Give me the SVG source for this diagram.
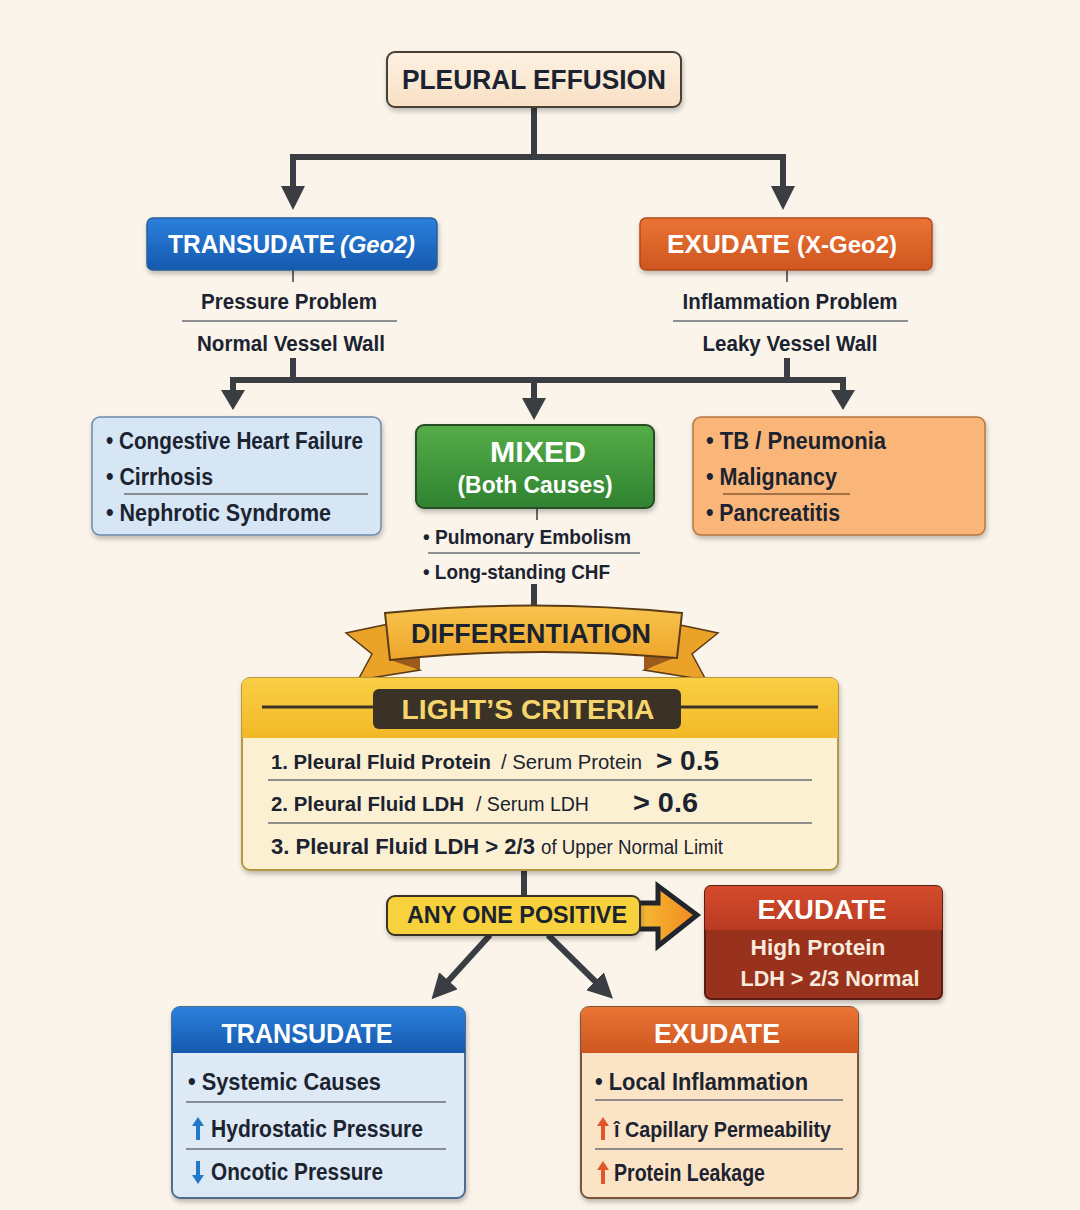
<svg xmlns="http://www.w3.org/2000/svg" width="1080" height="1210" viewBox="0 0 1080 1210">
<defs>
<style>
.t{font-family:"Liberation Sans","DejaVu Sans",sans-serif;font-weight:bold;fill:#1c2330}
.w{fill:#ffffff}
.c{text-anchor:middle}
.n{font-weight:normal}
.ln{stroke:#3a3d42;stroke-width:6;fill:none}
.thin{stroke:#3a3d42;stroke-width:1.5;fill:none}
.sep{stroke:#6b6f75;stroke-width:1.5}
.ah{fill:#3a3d42}
</style>
<linearGradient id="gBlue" x1="0" y1="0" x2="0" y2="1"><stop offset="0" stop-color="#2b80dc"/><stop offset="1" stop-color="#1559ae"/></linearGradient>
<linearGradient id="gOr" x1="0" y1="0" x2="0" y2="1"><stop offset="0" stop-color="#ea7434"/><stop offset="1" stop-color="#cf5620"/></linearGradient>
<linearGradient id="gGreen" x1="0" y1="0" x2="0" y2="1"><stop offset="0" stop-color="#55ad48"/><stop offset="1" stop-color="#2f8230"/></linearGradient>
<linearGradient id="gTitle" x1="0" y1="0" x2="0" y2="1"><stop offset="0" stop-color="#fdf1e2"/><stop offset="1" stop-color="#f8e0c4"/></linearGradient>
<linearGradient id="gRib" x1="0" y1="0" x2="0" y2="1"><stop offset="0" stop-color="#f9c44e"/><stop offset="1" stop-color="#eea52a"/></linearGradient>
<linearGradient id="gGold" x1="0" y1="0" x2="0" y2="1"><stop offset="0" stop-color="#f9cf45"/><stop offset="1" stop-color="#f2b826"/></linearGradient>
<linearGradient id="gRed" x1="0" y1="0" x2="0" y2="1"><stop offset="0" stop-color="#d54b2c"/><stop offset="1" stop-color="#b93a22"/></linearGradient>
<linearGradient id="gArrow" x1="0" y1="0" x2="1" y2="0"><stop offset="0" stop-color="#f8c33a"/><stop offset="1" stop-color="#f08a1e"/></linearGradient>
<filter id="sh" x="-10%" y="-10%" width="120%" height="130%"><feDropShadow dx="1" dy="3" stdDeviation="2.5" flood-color="#000" flood-opacity="0.25"/></filter>
<marker id="arr" viewBox="0 0 10 10" refX="5" refY="5" markerWidth="4.2" markerHeight="4.2" orient="auto"><path d="M0,0 L10,5 L0,10 Z" fill="#3a3d42"/></marker>
</defs>
<rect width="1080" height="1210" fill="#faf4ea"/>

<g id="connectors">
<path class="ln" d="M534,107 V157 M290,157 H786 M293,157 V190 M783,157 V190"/>
<polygon class="ah" points="281,186 305,186 293,210"/>
<polygon class="ah" points="771,186 795,186 783,210"/>
<path class="thin" d="M293,270 V282 M787,270 V282"/>
<path class="ln" d="M293,358 V380 M787,358 V380 M230,380 H846 M233,377 V392 M534,377 V402 M843,377 V392"/>
<polygon class="ah" points="221,390 245,390 233,410"/>
<polygon class="ah" points="522,398 546,398 534,420"/>
<polygon class="ah" points="831,390 855,390 843,410"/>
<path class="thin" d="M537,508 V520"/>
<path class="ln" d="M534,584 V606"/>
<path class="ln" d="M524,870 V898"/>
<path d="M490,935 L440,990" stroke="#3a3d42" stroke-width="6" marker-end="url(#arr)"/>
<path d="M548,935 L604,990" stroke="#3a3d42" stroke-width="6" marker-end="url(#arr)"/>
<polygon points="628,903 658,903 658,886 697,915 658,946 658,929 628,929" fill="url(#gArrow)" stroke="#22262c" stroke-width="5" stroke-linejoin="miter"/>
</g>

<g id="pleural-effusion">
<rect x="387" y="52" width="294" height="55" rx="8" fill="url(#gTitle)" stroke="#4a3f35" stroke-width="2" filter="url(#sh)"/>
<text class="t c" x="534" y="89" font-size="27" textLength="264" lengthAdjust="spacingAndGlyphs">PLEURAL EFFUSION</text>
</g>

<g id="transudate-head">
<rect x="147" y="218" width="290" height="52" rx="6" fill="url(#gBlue)" stroke="#2a5e9a" stroke-width="1.5" filter="url(#sh)"/>
<text class="t w" x="168" y="253" font-size="26" textLength="167" lengthAdjust="spacingAndGlyphs">TRANSUDATE</text>
<text class="t w" x="340" y="253" font-size="23" font-style="italic" textLength="75" lengthAdjust="spacingAndGlyphs">(Geo2)</text>
<text class="t c" x="289" y="309" font-size="22" textLength="176" lengthAdjust="spacingAndGlyphs">Pressure Problem</text>
<line class="sep" x1="182" y1="321" x2="397" y2="321"/>
<text class="t c" x="291" y="351" font-size="22" textLength="188" lengthAdjust="spacingAndGlyphs">Normal Vessel Wall</text>
</g>

<g id="exudate-head">
<rect x="640" y="218" width="292" height="52" rx="6" fill="url(#gOr)" stroke="#b04a1e" stroke-width="1.5" filter="url(#sh)"/>
<text class="t w" x="667" y="253" font-size="26" textLength="123" lengthAdjust="spacingAndGlyphs">EXUDATE</text>
<text class="t w" x="797" y="253" font-size="23" textLength="100" lengthAdjust="spacingAndGlyphs">(X-Geo2)</text>
<text class="t c" x="790" y="309" font-size="22" textLength="215" lengthAdjust="spacingAndGlyphs">Inflammation Problem</text>
<line class="sep" x1="673" y1="321" x2="908" y2="321"/>
<text class="t c" x="790" y="351" font-size="22" textLength="175" lengthAdjust="spacingAndGlyphs">Leaky Vessel Wall</text>
</g>

<g id="transudate-causes">
<rect x="92" y="417" width="289" height="118" rx="8" fill="#d6e6f5" stroke="#6d89a8" stroke-width="1.5" filter="url(#sh)"/>
<text class="t" x="106" y="449" font-size="23" textLength="257" lengthAdjust="spacingAndGlyphs">• Congestive Heart Failure</text>
<text class="t" x="106" y="485" font-size="23" textLength="107" lengthAdjust="spacingAndGlyphs">• Cirrhosis</text>
<line class="sep" x1="124" y1="494" x2="368" y2="494"/>
<text class="t" x="106" y="521" font-size="23" textLength="225" lengthAdjust="spacingAndGlyphs">• Nephrotic Syndrome</text>
</g>

<g id="mixed">
<rect x="416" y="425" width="238" height="83" rx="8" fill="url(#gGreen)" stroke="#264d26" stroke-width="2" filter="url(#sh)"/>
<text class="t w c" x="538" y="462" font-size="30" textLength="96" lengthAdjust="spacingAndGlyphs">MIXED</text>
<text class="t w c" x="535" y="493" font-size="23" textLength="155" lengthAdjust="spacingAndGlyphs">(Both Causes)</text>
<text class="t" x="423" y="544" font-size="21" textLength="208" lengthAdjust="spacingAndGlyphs">• Pulmonary Embolism</text>
<line class="sep" x1="428" y1="553" x2="640" y2="553"/>
<text class="t" x="423" y="579" font-size="21" textLength="187" lengthAdjust="spacingAndGlyphs">• Long-standing CHF</text>
</g>

<g id="exudate-causes">
<rect x="693" y="417" width="292" height="118" rx="8" fill="#f9b678" stroke="#b5773f" stroke-width="1.5" filter="url(#sh)"/>
<text class="t" x="706" y="449" font-size="23" textLength="180" lengthAdjust="spacingAndGlyphs">• TB / Pneumonia</text>
<text class="t" x="706" y="485" font-size="23" textLength="131" lengthAdjust="spacingAndGlyphs">• Malignancy</text>
<line x1="723" y1="494" x2="850" y2="494" stroke="#8a5a30" stroke-width="1.5"/>
<text class="t" x="706" y="521" font-size="23" textLength="134" lengthAdjust="spacingAndGlyphs">• Pancreatitis</text>
</g>

<g id="differentiation">
<polygon points="398,622 346,633 372,654 358,680 420,670 402,660" fill="#eaa229" stroke="#5a3b15" stroke-width="1.5"/>
<polygon points="390,660 420,670 420,655" fill="#9c5a1c"/>
<polygon points="666,622 718,633 692,654 706,680 644,670 662,660" fill="#eaa229" stroke="#5a3b15" stroke-width="1.5"/>
<polygon points="674,658 644,670 644,655" fill="#9c5a1c"/>
<path d="M385,613 Q532,598 682,613 L677,658 Q532,645 390,660 Z" fill="url(#gRib)" stroke="#5a3b15" stroke-width="2"/>
<text class="t c" x="531" y="643" font-size="28" textLength="240" lengthAdjust="spacingAndGlyphs">DIFFERENTIATION</text>
</g>

<g id="lights-criteria">
<rect x="242" y="678" width="596" height="192" rx="8" fill="#fcf0d3" stroke="#b8953f" stroke-width="2" filter="url(#sh)"/>
<path d="M250,678 H830 Q838,678 838,686 V738 H242 V686 Q242,678 250,678 Z" fill="url(#gGold)"/>
<line x1="262" y1="707" x2="375" y2="707" stroke="#3b3227" stroke-width="3"/>
<line x1="680" y1="707" x2="818" y2="707" stroke="#3b3227" stroke-width="3"/>
<rect x="373" y="689" width="308" height="40" rx="6" fill="#3b3227"/>
<text class="t c" x="528" y="719" font-size="28" style="fill:#f6d66c" textLength="253" lengthAdjust="spacingAndGlyphs">LIGHT’S CRITERIA</text>
<text class="t" y="769" font-size="21"><tspan x="271" textLength="220" lengthAdjust="spacingAndGlyphs">1. Pleural Fluid Protein</tspan><tspan class="n" x="501" font-size="20" textLength="141" lengthAdjust="spacingAndGlyphs">/ Serum Protein</tspan><tspan x="656" y="770" font-size="28" textLength="63" lengthAdjust="spacingAndGlyphs">&gt; 0.5</tspan></text>
<line class="sep" x1="268" y1="780" x2="812" y2="780"/>
<text class="t" y="811" font-size="21"><tspan x="271" textLength="193" lengthAdjust="spacingAndGlyphs">2. Pleural Fluid LDH</tspan><tspan class="n" x="476" font-size="20" textLength="113" lengthAdjust="spacingAndGlyphs">/ Serum LDH</tspan><tspan x="633" y="812" font-size="28" textLength="65" lengthAdjust="spacingAndGlyphs">&gt; 0.6</tspan></text>
<line class="sep" x1="268" y1="823" x2="812" y2="823"/>
<text class="t" y="854" font-size="22"><tspan x="271" textLength="264" lengthAdjust="spacingAndGlyphs">3. Pleural Fluid LDH &gt; 2/3</tspan><tspan class="n" x="541" font-size="20" textLength="182" lengthAdjust="spacingAndGlyphs">of Upper Normal Limit</tspan></text>
</g>

<g id="any-one-positive">
<rect x="387" y="896" width="253" height="39" rx="8" fill="#f8d23c" stroke="#3a3227" stroke-width="2" filter="url(#sh)"/>
<text class="t c" x="517" y="923" font-size="23" textLength="220" lengthAdjust="spacingAndGlyphs">ANY ONE POSITIVE</text>
</g>

<g id="exudate-result">
<rect x="705" y="886" width="237" height="113" rx="6" fill="#98301f" stroke="#5a1d12" stroke-width="2" filter="url(#sh)"/>
<path d="M711,886 H936 Q942,886 942,892 V930 H705 V892 Q705,886 711,886 Z" fill="url(#gRed)"/>
<text class="t w c" x="822" y="919" font-size="28" textLength="129" lengthAdjust="spacingAndGlyphs">EXUDATE</text>
<text class="t c" x="818" y="955" font-size="22" style="fill:#f8eadc" textLength="135" lengthAdjust="spacingAndGlyphs">High Protein</text>
<text class="t c" x="830" y="986" font-size="22" style="fill:#f8eadc" textLength="179" lengthAdjust="spacingAndGlyphs">LDH &gt; 2/3 Normal</text>
</g>

<g id="transudate-summary">
<rect x="172" y="1007" width="293" height="191" rx="8" fill="#dde9f5" stroke="#4f6d8c" stroke-width="2" filter="url(#sh)"/>
<path d="M180,1007 H457 Q465,1007 465,1015 V1053 H172 V1015 Q172,1007 180,1007 Z" fill="url(#gBlue)"/>
<text class="t w c" x="307" y="1043" font-size="28" textLength="171" lengthAdjust="spacingAndGlyphs">TRANSUDATE</text>
<text class="t" x="188" y="1090" font-size="23" textLength="193" lengthAdjust="spacingAndGlyphs">• Systemic Causes</text>
<line class="sep" x1="186" y1="1102" x2="446" y2="1102"/>
<path d="M198,1140 V1124" stroke="#1f78c8" stroke-width="4"/>
<polygon points="192,1126 204,1126 198,1117" fill="#1f78c8"/>
<text class="t" x="211" y="1137" font-size="23" textLength="212" lengthAdjust="spacingAndGlyphs">Hydrostatic Pressure</text>
<line class="sep" x1="186" y1="1149" x2="446" y2="1149"/>
<path d="M198,1161 V1177" stroke="#1f78c8" stroke-width="4"/>
<polygon points="192,1175 204,1175 198,1184" fill="#1f78c8"/>
<text class="t" x="211" y="1180" font-size="23" textLength="172" lengthAdjust="spacingAndGlyphs">Oncotic Pressure</text>
</g>

<g id="exudate-summary">
<rect x="581" y="1007" width="277" height="191" rx="8" fill="#fbe3c6" stroke="#7a5238" stroke-width="2" filter="url(#sh)"/>
<path d="M589,1007 H850 Q858,1007 858,1015 V1053 H581 V1015 Q581,1007 589,1007 Z" fill="url(#gOr)"/>
<text class="t w c" x="717" y="1043" font-size="28" textLength="126" lengthAdjust="spacingAndGlyphs">EXUDATE</text>
<text class="t" x="595" y="1090" font-size="23" textLength="213" lengthAdjust="spacingAndGlyphs">• Local Inflammation</text>
<line class="sep" x1="595" y1="1100" x2="843" y2="1100"/>
<path d="M603,1140 V1124" stroke="#e0582a" stroke-width="4"/>
<polygon points="597,1126 609,1126 603,1117" fill="#e0582a"/>
<text class="t" x="614" y="1137" font-size="22" textLength="217" lengthAdjust="spacingAndGlyphs">î Capillary Permeability</text>
<line class="sep" x1="595" y1="1149" x2="843" y2="1149"/>
<path d="M603,1184 V1168" stroke="#e0582a" stroke-width="4"/>
<polygon points="597,1170 609,1170 603,1161" fill="#e0582a"/>
<text class="t" x="614" y="1181" font-size="23" textLength="151" lengthAdjust="spacingAndGlyphs">Protein Leakage</text>
</g>
</svg>
